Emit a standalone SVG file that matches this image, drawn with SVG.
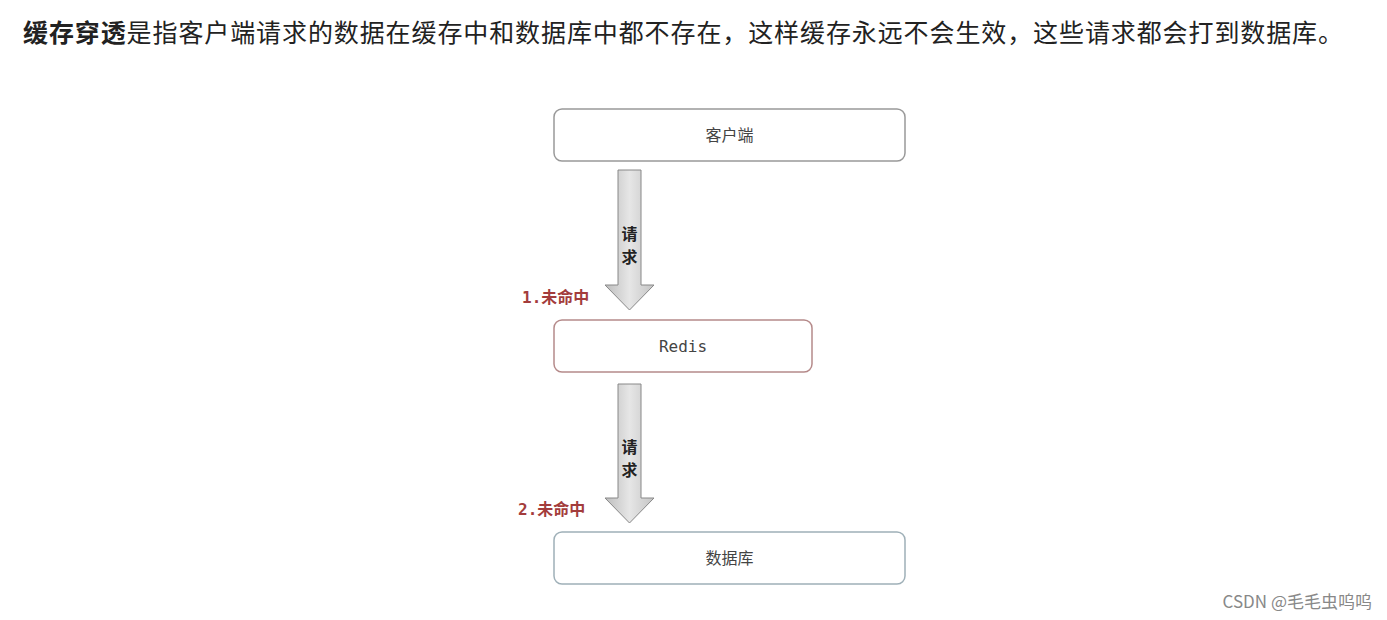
<svg xmlns="http://www.w3.org/2000/svg" width="1387" height="620" viewBox="0 0 1387 620">
<style>
.box{fill:#fff;stroke-width:1.5}
.t{font-family:"Noto Sans CJK SC",sans-serif;font-size:16px;fill:#444;text-anchor:middle}
.mono{font-family:"DejaVu Sans Mono",monospace;font-size:16px}
.lbl{font-family:"DejaVu Sans Mono","Noto Sans CJK SC",monospace;font-size:16px;fill:#a33c3c;font-weight:bold}
.arr{fill:url(#g);stroke:#888;stroke-width:1}
.at{font-family:"Noto Sans CJK SC",sans-serif;font-size:16px;fill:#222;text-anchor:middle;font-weight:bold}
</style>
<defs><linearGradient id="g" x1="0" y1="0" x2="1" y2="0"><stop offset="0" stop-color="#bdbdbd"/><stop offset="0.5" stop-color="#e6e6e6"/><stop offset="1" stop-color="#c4c4c4"/></linearGradient></defs>
<rect width="1387" height="620" fill="#fff"/>
<text x="23" y="42" font-family="Noto Sans CJK SC,sans-serif" font-size="25" letter-spacing="0.9" fill="#222"><tspan font-weight="bold">缓存穿透</tspan>是指客户端请求的数据在缓存中和数据库中都不存在，这样缓存永远不会生效，这些请求都会打到数据库。</text>
<g id="connectors">
<g id="arrow1"><path class="arr" d="M618,170 H641 V285 H654 L629.5,310 L605,285 H618 Z"/><text class="at" x="629.5" y="240">请</text><text class="at" x="629.5" y="263">求</text></g>
<g id="arrow2"><path class="arr" d="M618,384 H641 V498 H654 L629.5,523 L605,498 H618 Z"/><text class="at" x="629.5" y="453">请</text><text class="at" x="629.5" y="476">求</text></g>
<text class="lbl" x="522" y="303">1.未命中</text>
<text class="lbl" x="518" y="515">2.未命中</text>
</g>
<g id="client"><rect class="box" x="554" y="109" width="351" height="52" rx="8" stroke="#999"/><text class="t" x="729.5" y="141">客户端</text></g>
<g id="redis"><rect class="box" x="554" y="320" width="258" height="52" rx="8" stroke="#b58a8a"/><text class="t mono" x="683" y="352">Redis</text></g>
<g id="db"><rect class="box" x="554" y="532" width="351" height="52" rx="8" stroke="#9fb0b8"/><text class="t" x="729.5" y="564">数据库</text></g>
<text x="1372" y="608" text-anchor="end" font-family="Noto Sans CJK SC,sans-serif" font-size="17" fill="#888">CSDN @毛毛虫呜呜</text>
</svg>
